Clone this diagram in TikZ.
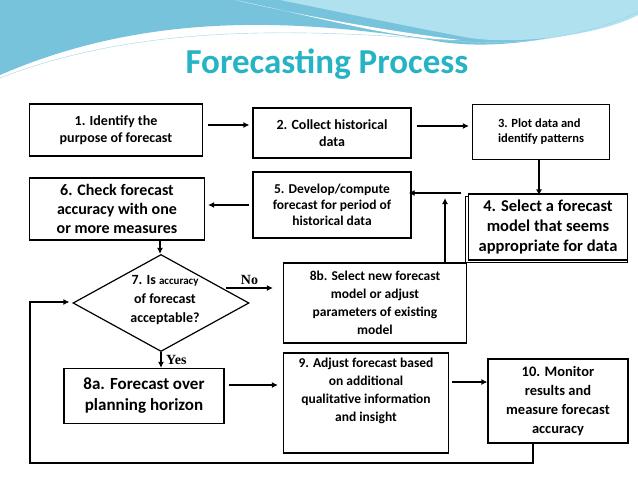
\documentclass[tikz,border=0pt]{standalone}
\usepackage{fontspec}
\setmainfont{Carlito}
\newfontfamily\serifb{Liberation Serif}
\usetikzlibrary{arrows.meta,shapes.geometric}
\definecolor{teal1}{RGB}{38,180,196}
\definecolor{wave1}{RGB}{120,195,220}
\definecolor{wave2}{RGB}{175,225,238}
\newcommand{\fs}[2]{\bfseries\fontsize{#1}{#2}\selectfont}
\tikzset{
 box/.style={draw,line width=1.2pt,fill=white,align=center,inner sep=2pt},
 arr/.style={-{Latex[length=6pt,width=6pt]},line width=1.8pt},
 lbl/.style={font=\serifb\bfseries\fontsize{14}{15}\selectfont}
}
\begin{document}
\begin{tikzpicture}[x=1pt,y=-1pt]
\useasboundingbox (0,0) rectangle (638,479);
\fill[white] (0,0) rectangle (638,479);
% waves
\fill[wave1] (0,0) -- (638,0) -- (638,10) .. controls (560,45) and (480,50) .. (430,40) .. controls (300,20) and (150,10) .. (0,75) -- cycle;
\fill[wave2] (280,0) -- (638,0) -- (638,15) .. controls (600,35) and (520,45) .. (470,38) .. controls (400,25) and (330,10) .. (280,0) -- cycle;
\fill[white] (235,0) .. controls (300,15) and (380,30) .. (460,40) .. controls (400,40) and (330,20) .. (235,0) -- cycle;
\draw[wave1!70] (0,78) .. controls (150,20) and (320,30) .. (470,42) .. controls (540,46) and (600,30) .. (638,12);
\node[font=\fs{35}{40},text=teal1] (title) at (327,64) {Forecasting Process};
% boxes
\node[box,minimum width=173pt,minimum height=52pt,font=\fs{14}{17}] (b1) at (116,130) {1. Identify the\\purpose of forecast};
\node[box,minimum width=158pt,minimum height=50pt,font=\fs{14}{17}] (b2) at (332,133) {2. Collect historical\\data};
\node[box,minimum width=137pt,minimum height=55pt,font=\fs{12.5}{15},align=left] (b3) at (541,132) {3. Plot data and\\identify patterns};
\draw[line width=0.6pt] (465,196) rectangle (627,262);
\node[box,minimum width=159pt,minimum height=66pt,font=\fs{16.5}{20}] (b4) at (548,227) {4. Select a forecast\\model that seems\\appropriate for data};
\node[box,minimum width=158pt,minimum height=66pt,font=\fs{13.5}{16}] (b5) at (332,205) {5. Develop/compute\\forecast for period of\\historical data};
\node[box,minimum width=175pt,minimum height=62pt,font=\fs{16}{19}] (b6) at (117,209) {6. Check forecast\\accuracy with one\\or more measures};
\node[diamond,draw,line width=1.2pt,fill=white,minimum width=176pt,minimum height=97pt,inner sep=0pt,aspect=1.8] (b7) at (161,303) {};
\node[align=center,font=\fs{14}{19}] (t7) at (165,300) {7. Is {\fontsize{11}{13}\selectfont accuracy}\\of forecast\\acceptable?};
\node[box,minimum width=183pt,minimum height=80pt,font=\fs{13.5}{18}] (b8b) at (375,303) {8b. Select new forecast\\model or adjust\\parameters of existing\\model};
\node[box,minimum width=160pt,minimum height=55pt,font=\fs{17}{21}] (b8a) at (144,396) {8a. Forecast over\\planning horizon};
\node[box,minimum width=165pt,minimum height=100pt,font=\fs{13.5}{18}] (b9) at (366,403) {9. Adjust forecast based\\on additional\\qualitative information\\and insight\\[8pt]};
\node[box,minimum width=140pt,minimum height=84pt,font=\fs{14.5}{19}] (b10) at (558,401) {10. Monitor\\results and\\measure forecast\\accuracy};
% connectors
\draw[arr] ([xshift=5pt]b1.east |- 0,125) -- ([xshift=-3pt]b2.west |- 0,125);
\draw[arr] ([xshift=5pt]b2.east |- 0,126) -- ([xshift=-3pt]b3.west |- 0,126);
\draw[arr] (b3.south -| 539,0) -- ([yshift=-2pt]b4.north -| 539,0);
\coordinate (j45) at (445,193);
\draw[arr] (461,193) -- ([xshift=-3pt]b5.east |- j45);
\draw[arr] (b8b.north -| j45) -- (445,198);
\draw[arr] ([xshift=-3pt]b5.west |- 0,205) -- ([xshift=3pt]b6.east |- 0,205);
\draw[arr] (b6.south -| 160,0) -- (b7.north -| 160,0);
\draw[arr] (226,288) -- ([xshift=-10pt]b8b.west |- 0,288) node[lbl,midway,above=-1pt] {No};
\draw[arr] (b7.south) -- (b8a.north -| b7.south) node[lbl,midway,right=1pt] {Yes};
\draw[arr] ([xshift=4pt]b8a.east |- 0,385) -- ([xshift=-5pt]b9.west |- 0,385);
\draw[arr] ([xshift=3pt]b9.east |- 0,382) -- (b10.west |- 0,382);
\coordinate (fb) at (30,463);
\draw[arr] (b10.south -| 533,0) -- (533,463) -- (fb) -- (30,302) -- ([xshift=-3pt]b7.west |- 0,302);
\end{tikzpicture}
\end{document}
